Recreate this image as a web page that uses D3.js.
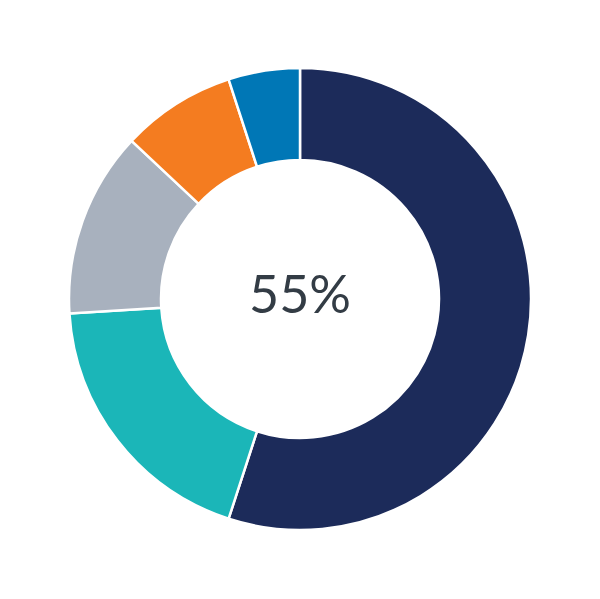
<!DOCTYPE html>
<html>
<head>
<meta charset="utf-8">
<script src="https://cdn.jsdelivr.net/npm/d3@7"></script>
<style>
  html, body { margin: 0; padding: 0; background: #fff; }
  svg { display: block; }
</style>
</head>
<body>
<div id="chart"></div>
<script>
// slice data, clockwise from 12 o'clock
var categories = ["A", "B", "C", "D", "E"];
var values = [55, 19, 13, 8, 5];
var colors = ["#1c2b5a", "#1bb6b8", "#a8b1be", "#f47c20", "#0077b6"];
var centerLabel = "55%";

var width = 600, height = 599;
var cx = 300, cy = 299;
var outerR = 231, innerR = 139;

var svg = d3.select("#chart").append("svg")
	.attr("width", width)
	.attr("height", height);

var g = svg.append("g")
	.attr("transform", "translate(" + cx + "," + cy + ")");

var pie = d3.pie().sort(null).value(function(d) { return d.value; });
var arc = d3.arc().innerRadius(innerR).outerRadius(outerR);

var data = categories.map(function(c, i) {
	return { label: c, value: values[i], color: colors[i] };
});

g.selectAll("path.slice")
	.data(pie(data))
	.enter().append("path")
	.attr("class", "slice")
	.attr("d", arc)
	.attr("fill", function(d) { return d.data.color; })
	.attr("stroke", "#fff")
	.attr("stroke-width", 2.5);

g.append("text")
	.attr("x", 0)
	.attr("y", 14)
	.attr("text-anchor", "middle")
	.style("font-family", "Lato, 'Open Sans', sans-serif")
	.style("font-size", "52px")
	.style("fill", "#333c45")
	.text(centerLabel);
</script>
</body>
</html>
